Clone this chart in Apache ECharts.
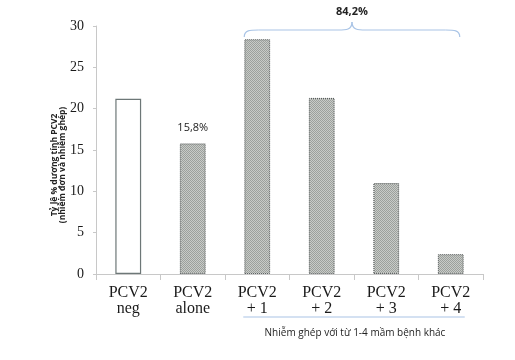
<!DOCTYPE html>
<html>
<head>
<meta charset="utf-8">
<script src="https://cdn.jsdelivr.net/npm/echarts@6/dist/echarts.min.js"></script>
<style>html,body{margin:0;padding:0;background:#fff}#c{width:515px;height:360px}</style>
</head>
<body>
<div id="c"></div>
<script>
const categories = ['PCV2\nneg', 'PCV2\nalone', 'PCV2\n+ 1', 'PCV2\n+ 2', 'PCV2\n+ 3', 'PCV2\n+ 4'];
const values = [21.2, 15.8, 28.4, 21.3, 11.0, 2.4];
const yTicks = [0, 5, 10, 15, 20, 25, 30];
const yTitle = 'Tỷ lệ % dương tính PCV2\n(nhiễm đơn và nhiễm ghép)';
const aloneLabel = '15,8%';
const groupLabel = '84,2%';
const groupNote = 'Nhiễm ghép với từ 1-4 mầm bệnh khác';

const pc = document.createElement('canvas');
pc.width = 2; pc.height = 2;
const px = pc.getContext('2d');
px.fillStyle = '#c8cbc8'; px.fillRect(0,0,2,2);
px.fillStyle = '#9ca09c'; px.fillRect(0,0,1,1); px.fillRect(1,1,1,1);

const chart = echarts.init(document.getElementById('c'), null, {renderer: 'canvas'});
const data = values.map((v, i) => {
  if (i === 0) return {value: v, itemStyle: {color: '#ffffff', borderColor: '#6d7777', borderWidth: 1.2, borderType: 'solid'}};
  const d = {value: v};
  if (i === 1) d.label = {show: true, position: 'top', distance: 10, formatter: aloneLabel, fontFamily: '"Open Sans", sans-serif', fontSize: 11, color: '#222'};
  return d;
});
chart.setOption({
  animation: false,
  grid: {left: 96, right: 32, top: 26, bottom: 86},
  xAxis: {
    type: 'category', data: categories,
    axisLine: {lineStyle: {color: '#c8c8c8', width: 1}},
    axisTick: {show: true, length: 6, lineStyle: {color: '#c8c8c8'}},
    axisLabel: {fontFamily: '"Liberation Serif", "Times New Roman", serif', fontSize: 16, color: '#1a1a1a', lineHeight: 16, margin: 11}
  },
  yAxis: {
    type: 'value', min: 0, max: 30, interval: 5,
    axisLine: {show: true, lineStyle: {color: '#c8c8c8'}},
    axisTick: {show: true, length: 3, lineStyle: {color: '#c8c8c8'}},
    splitLine: {show: false},
    axisLabel: {fontFamily: '"Liberation Serif", "Times New Roman", serif', fontSize: 14, color: '#1a1a1a', margin: 12,
      formatter: v => yTicks.includes(v) ? String(v) : ''}
  },
  series: [{
    type: 'bar', data: data, barWidth: '40%',
    itemStyle: {color: {image: pc, repeat: 'repeat'}, borderColor: '#4a4f4f', borderWidth: 1, borderType: 'dotted'}
  }]
});

function addGraphics() {
  const p = (i, v) => chart.convertToPixel({xAxisIndex: 0, yAxisIndex: 0}, [i, v]);
  const xL = p(2, 0)[0] - 13;
  const xR = p(5, 0)[0] + 9;
  const xM = (xL + xR) / 2;
  const yTop = p(0, 30)[1];
  const yEnd = yTop + 11, yFlat = yTop + 4, yTip = yTop - 4;
  const braceStyle = {stroke: '#a9c4e6', lineWidth: 1.2, fill: null};
  const curve = (x1, y1, c1x, c1y, c2x, c2y, x2, y2) => ({type: 'bezierCurve', shape: {x1: x1, y1: y1, cpx1: c1x, cpy1: c1y, cpx2: c2x, cpy2: c2y, x2: x2, y2: y2}, style: braceStyle});
  const yBase = p(0, 0)[1];
  chart.setOption({graphic: [
    curve(xL, yEnd, xL, yFlat, xL + 6, yFlat, xL + 14, yFlat),
    {type: 'line', shape: {x1: xL + 14, y1: yFlat, x2: xM - 14, y2: yFlat}, style: braceStyle},
    curve(xM - 14, yFlat, xM - 6, yFlat, xM, yFlat, xM, yTip),
    curve(xM, yTip, xM, yFlat, xM + 6, yFlat, xM + 14, yFlat),
    {type: 'line', shape: {x1: xM + 14, y1: yFlat, x2: xR - 14, y2: yFlat}, style: braceStyle},
    curve(xR - 14, yFlat, xR - 6, yFlat, xR, yFlat, xR, yEnd),
    {type: 'text', x: xM, y: yTop - 14, style: {text: groupLabel, font: 'bold 11px "Open Sans", sans-serif', fill: '#222', textAlign: 'center', textVerticalAlign: 'middle'}},
    {type: 'line', shape: {x1: xL - 1, y1: yBase + 43, x2: xR + 5, y2: yBase + 43}, style: {stroke: '#a9c4e6', lineWidth: 1.2}},
    {type: 'text', x: xM + 3, y: yBase + 59, style: {text: groupNote, font: '10px "Open Sans", sans-serif', fill: '#222', textAlign: 'center', textVerticalAlign: 'middle'}},
    {type: 'text', x: 59, y: 165, rotation: Math.PI / 2, style: {text: yTitle, font: 'bold 8.5px "Open Sans", sans-serif', fill: '#222', textAlign: 'center', textVerticalAlign: 'middle', lineHeight: 8}}
  ]});
}
addGraphics();
</script>
</body>
</html>
